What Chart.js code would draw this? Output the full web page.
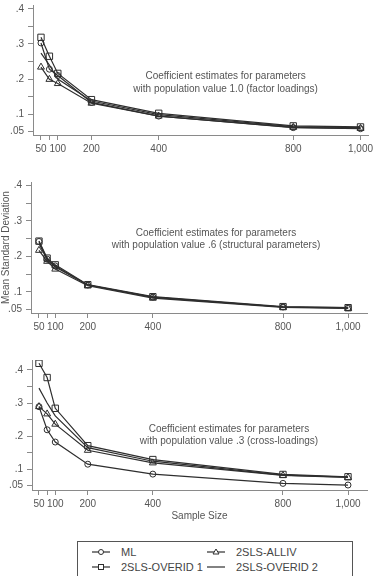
<!DOCTYPE html>
<html>
<head>
<meta charset="utf-8">
<script src="https://cdn.jsdelivr.net/npm/chart.js@4/dist/chart.umd.min.js"></script>
<style>
html,body{margin:0;padding:0;background:#fff;width:374px;height:576px;overflow:hidden;font-family:"Liberation Sans",Arial,sans-serif;}
.panel{position:absolute;left:0;}
#legend{position:absolute;left:77px;top:541px;width:274px;height:34px;border:1px solid #555;background:#fff;}
.item{position:absolute;height:14px;font-size:11px;color:#444;line-height:14px;white-space:nowrap;}
.item svg{position:absolute;left:0;top:2px;}
.item span{position:absolute;left:29px;top:0;}
</style>
</head>
<body>
<canvas id="c1" class="panel" width="374" height="168" style="top:0px"></canvas>
<canvas id="c2" class="panel" width="374" height="172" style="top:170px"></canvas>
<canvas id="c3" class="panel" width="374" height="190" style="top:346px"></canvas>
<div id="legend"></div>
<script>
// ---- data ----
const sampleSizes = [50, 75, 100, 200, 400, 800, 1000];
const xTickValues = [50, 75, 100, 200, 400, 800, 1000];
const xTickLabels = ['50', '', '100', '200', '400', '800', '1,000'];
const yTickValues = [0.05, 0.1, 0.15, 0.2, 0.25, 0.3, 0.35, 0.4];
const yTickLabels = ['.05', '.1', '', '.2', '', '.3', '', '.4'];
const seriesNames = ['ML', '2SLS-ALLIV', '2SLS-OVERID 1', '2SLS-OVERID 2'];

// factor loadings (population value 1.0)
const loadML      = [0.303, 0.228, 0.210, 0.133, 0.094, 0.061, 0.058];
const loadALLIV   = [0.234, 0.199, 0.187, 0.131, 0.094, 0.062, 0.059];
const loadOVERID1 = [0.319, 0.265, 0.216, 0.141, 0.102, 0.066, 0.063];
const loadOVERID2 = [0.274, 0.240, 0.200, 0.137, 0.098, 0.064, 0.061];

// structural parameters (population value .6)
const structML      = [0.242, 0.192, 0.173, 0.119, 0.085, 0.057, 0.055];
const structALLIV   = [0.217, 0.186, 0.164, 0.117, 0.082, 0.056, 0.053];
const structOVERID1 = [0.243, 0.195, 0.176, 0.120, 0.086, 0.058, 0.055];
const structOVERID2 = [0.236, 0.190, 0.170, 0.119, 0.084, 0.057, 0.054];

// cross-loadings (population value .3)
const crossML      = [0.289, 0.219, 0.182, 0.115, 0.085, 0.057, 0.052];
const crossALLIV   = [0.289, 0.267, 0.236, 0.157, 0.119, 0.081, 0.075];
const crossOVERID1 = [0.420, 0.377, 0.284, 0.171, 0.129, 0.084, 0.077];
const crossOVERID2 = [0.345, 0.300, 0.261, 0.165, 0.124, 0.082, 0.076];

// ---- styling ----
const LINE = '#2e2e2e';
const AXIS = '#8a8a8a';
const TEXT = '#555';
const markerStyles = [
  {pointStyle: 'circle', pointRadius: 3},
  {pointStyle: 'triangle', pointRadius: 4},
  {pointStyle: 'rect', pointRadius: 4.5},
  {pointStyle: false, pointRadius: 0}
];

Chart.defaults.font.family = '"Liberation Sans", Arial, sans-serif';
Chart.defaults.font.size = 10;
Chart.defaults.color = TEXT;

const annotate = {
  id: 'annot',
  afterDatasetsDraw(chart, args, opts) {
    const {ctx, scales} = chart;
    const px = scales.x.getPixelForValue(opts.x);
    const py = scales.y.getPixelForValue(opts.y);
    ctx.save();
    ctx.font = '10px "Liberation Sans", Arial, sans-serif';
    ctx.fillStyle = TEXT;
    ctx.textAlign = 'center';
    ctx.textBaseline = 'middle';
    const n = opts.lines.length;
    opts.lines.forEach((t, i) => ctx.fillText(t, px, py + (i - (n - 1) / 2) * 12.5));
    ctx.restore();
  }
};

function makeChart(id, seriesList, cfg) {
  const datasets = seriesList.map((vals, i) => Object.assign({
    label: seriesNames[i],
    data: sampleSizes.map((s, j) => ({x: s, y: vals[j]})),
    borderColor: LINE,
    borderWidth: 1.2,
    pointBorderColor: LINE,
    pointBackgroundColor: 'rgba(255,255,255,0)',
    pointBorderWidth: 1,
    fill: false,
    tension: 0
  }, markerStyles[i]));

  const gridCfg = {display: true, drawOnChartArea: false, drawTicks: true, tickLength: 5, color: AXIS, lineWidth: 1};
  const borderCfg = {display: true, color: AXIS, width: 1};

  return new Chart(document.getElementById(id), {
    type: 'line',
    data: {datasets},
    plugins: [annotate],
    options: {
      responsive: false,
      animation: false,
      devicePixelRatio: 1,
      layout: {padding: {top: cfg.padTop, right: cfg.padRight, left: 0, bottom: 0}},
      plugins: {
        legend: {display: false},
        tooltip: {enabled: false},
        annot: {x: cfg.annX, y: cfg.annY, lines: cfg.annLines}
      },
      scales: {
        x: {
          type: 'linear',
          min: cfg.xMin, max: cfg.xMax,
          grid: gridCfg, border: borderCfg,
          ticks: {
            autoSkip: false, maxRotation: 0, padding: 3, color: TEXT, font: {size: 10},
            callback: (v) => { const k = xTickValues.indexOf(v); return k >= 0 ? xTickLabels[k] : ''; }
          },
          afterBuildTicks: (s) => { s.ticks = xTickValues.map(v => ({value: v})); },
          afterFit: (s) => { s.height = cfg.xHeight; s.paddingLeft = 0; s.paddingRight = 0; },
          title: cfg.xTitle ? {display: true, text: cfg.xTitle, color: TEXT, font: {size: 10}, padding: {top: 0, bottom: cfg.xTitlePad}} : {display: false}
        },
        y: {
          type: 'linear',
          min: cfg.yMin, max: cfg.yMax,
          grid: gridCfg, border: borderCfg,
          ticks: {
            autoSkip: false, padding: 4, color: TEXT, font: {size: 10},
            callback: (v) => { const k = yTickValues.findIndex(t => Math.abs(t - v) < 1e-9); return k >= 0 ? yTickLabels[k] : ''; }
          },
          afterBuildTicks: (s) => { s.ticks = yTickValues.map(v => ({value: v})); },
          afterFit: (s) => { s.width = cfg.yWidth; s.paddingTop = 0; s.paddingBottom = 0; },
          title: cfg.yTitle ? {display: true, text: cfg.yTitle, color: TEXT, font: {size: 10}, padding: {top: 0, bottom: 0}} : {display: false}
        }
      }
    }
  });
}

makeChart('c1', [loadML, loadALLIV, loadOVERID1, loadOVERID2], {
  padTop: 2, padRight: 5, xHeight: 33, yWidth: 33,
  xMin: 26.25, xMax: 1023.75, yMin: 0.04, yMax: 0.41,
  annX: 599, annY: 0.190,
  annLines: ['Coefficient estimates for parameters', 'with population value 1.0 (factor loadings)']
});

makeChart('c2', [structML, structALLIV, structOVERID1, structOVERID2], {
  padTop: 12, padRight: 7, xHeight: 29, yWidth: 31,
  xMin: 25.5, xMax: 1058, yMin: 0.04, yMax: 0.41,
  annX: 594, annY: 0.248,
  annLines: ['Coefficient estimates for parameters', 'with population value .6 (structural parameters)'],
  yTitle: 'Mean Standard Deviation'
});

makeChart('c3', [crossML, crossALLIV, crossOVERID1, crossOVERID2], {
  padTop: 14, padRight: 7, xHeight: 46, yWidth: 32,
  xMin: 28.5, xMax: 1058.4, yMin: 0.037, yMax: 0.430,
  annX: 634, annY: 0.203,
  annLines: ['Coefficient estimates for parameters', 'with population value .3 (cross-loadings)'],
  xTitle: 'Sample Size', xTitlePad: 14
});

// ---- legend ----
const legendPos = [
  {left: 14, top: 3}, {left: 129, top: 3},
  {left: 14, top: 18}, {left: 129, top: 18}
];
const legendIcons = [
  '<circle cx="9" cy="5" r="2.5" fill="#fff" stroke="#2e2e2e" stroke-width="1"/>',
  '<polygon points="9,2 12,7 6,7" fill="#fff" stroke="#2e2e2e" stroke-width="1"/>',
  '<rect x="6.5" y="2.5" width="5" height="5" fill="#fff" stroke="#2e2e2e" stroke-width="1"/>',
  ''
];
const legend = document.getElementById('legend');
seriesNames.forEach((name, i) => {
  const d = document.createElement('div');
  d.className = 'item';
  d.style.left = legendPos[i].left + 'px';
  d.style.top = legendPos[i].top + 'px';
  d.innerHTML = '<svg width="18" height="10" viewBox="0 0 18 10"><line x1="0" y1="5" x2="18" y2="5" stroke="#2e2e2e" stroke-width="1.2"/>' +
    legendIcons[i] + '</svg><span>' + name + '</span>';
  legend.appendChild(d);
});
</script>
</body>
</html>
